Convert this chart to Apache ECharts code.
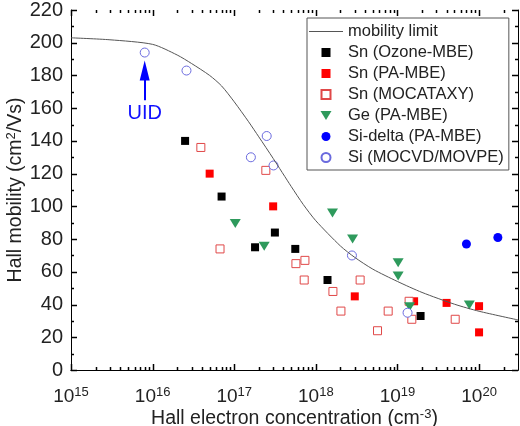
<!DOCTYPE html>
<html>
<head>
<meta charset="utf-8">
<script src="https://cdn.jsdelivr.net/npm/echarts@6/dist/echarts.min.js"></script>
<style>
html, body { margin: 0; padding: 0; background: #fff; }
#chart { width: 520px; height: 426px; }
</style>
</head>
<body>
<div id="chart"></div>
<script>
// mobility limit curve
var limitX = [1e15, 3e15, 1e16, 2e16, 3e16, 5e16, 7e16, 1e17, 1.5e17, 2e17, 3e17, 5e17, 7e17, 1e18, 2e18, 3e18, 5e18, 1e19, 2e19, 5e19, 1e20, 3e20];
var limitY = [203, 201.8, 199, 192.5, 187.3, 180, 173.6, 163.9, 151.7, 142.5, 129.3, 112.1, 101.2, 91.2, 75.8, 68.8, 61.6, 54.1, 47.4, 40.2, 35.9, 30.6];

// Sn (Ozone-MBE)
var ozoneX = [2.5e16, 7.0e16, 1.8e17, 3.15e17, 5.6e17, 1.39e18, 1.92e19];
var ozoneY = [140, 106, 75, 84, 74, 55, 33];
// Sn (PA-MBE)
var snPaX = [5.0e16, 3.0e17, 3.0e18, 1.6e19, 4.0e19, 1.0e20, 1.0e20];
var snPaY = [120, 100, 45, 42, 41, 39, 23];
// Sn (MOCATAXY)
var mocX = [3.9e16, 6.7e16, 2.44e17, 5.7e17, 7.35e17, 7.2e17, 1.62e18, 2.03e18, 3.49e18, 5.7e18, 7.7e18, 1.39e19, 1.5e19, 5.1e19];
var mocY = [136, 74, 122, 65, 67, 55, 48, 36, 55, 24, 36, 42, 31, 31];
// Ge (PA-MBE)
var geX = [1.03e17, 2.33e17, 1.6e18, 2.82e18, 1.02e19, 1.02e19, 1.41e19, 7.6e19];
var geY = [89.5, 75.7, 96, 80, 65.5, 57.5, 38.6, 39.7];
// Si-delta (PA-MBE)
var deltaX = [7.0e19, 1.7e20];
var deltaY = [77, 81];
// Si (MOCVD/MOVPE)
var siX = [8.0e15, 2.6e16, 1.6e17, 2.5e17, 3.03e17, 2.77e18, 1.33e19];
var siY = [194, 183, 130, 143, 125, 70, 35];

// axis ticks (drawn inward on all four sides)
var xMajorTicks = [1e15, 1e16, 1e17, 1e18, 1e19, 1e20];
var yMajorTicks = [0, 20, 40, 60, 80, 100, 120, 140, 160, 180, 200, 220];
var yMinorTicks = [10, 30, 50, 70, 90, 110, 130, 150, 170, 190, 210];
var xMinorTicks = [];
for (var e = 15; e <= 20; e++) {
  for (var k = 2; k <= 9; k++) {
    var v = k * Math.pow(10, e);
    if (v < 3e20) xMinorTicks.push(v);
  }
}

function pairs(xs, ys) {
  return xs.map(function (x, i) { return [x, ys[i]]; });
}

var tickData = [];
xMajorTicks.forEach(function (v) { tickData.push([v, 110, 6, 0]); });
xMinorTicks.forEach(function (v) { tickData.push([v, 110, 3, 0]); });
yMajorTicks.forEach(function (v) { tickData.push([1e16, v, 6, 1]); });
yMinorTicks.forEach(function (v) { tickData.push([1e16, v, 3, 1]); });

function renderTick(params, api) {
  var cs = params.coordSys;
  var len = api.value(2);
  var style = { stroke: '#000', lineWidth: 1.5 };
  var left = cs.x, right = cs.x + cs.width, top = cs.y, bottom = cs.y + cs.height;
  if (api.value(3) === 0) {
    var px = Math.round(api.coord([api.value(0), 110])[0]) + 0.5;
    return {
      type: 'group',
      children: [
        { type: 'line', shape: { x1: px, y1: bottom, x2: px, y2: bottom - len }, style: style },
        { type: 'line', shape: { x1: px, y1: top, x2: px, y2: top + len }, style: style }
      ]
    };
  }
  var py = Math.round(api.coord([1e16, api.value(1)])[1]) + 0.5;
  return {
    type: 'group',
    children: [
      { type: 'line', shape: { x1: left, y1: py, x2: left + len, y2: py }, style: style },
      { type: 'line', shape: { x1: right, y1: py, x2: right - len, y2: py }, style: style }
    ]
  };
}

var font = 'Liberation Sans, Arial, sans-serif';
var supRich = {
  b: { fontSize: 19, color: '#222', fontFamily: font, lineHeight: 22 },
  s: { fontSize: 13, color: '#222', fontFamily: font, lineHeight: 13, verticalAlign: 'top' }
};
var nameRich = {
  b: { fontSize: 19.5, color: '#222', fontFamily: font, lineHeight: 22 },
  s: { fontSize: 13, color: '#222', fontFamily: font, lineHeight: 13, verticalAlign: 'top' }
};

var chart = echarts.init(document.getElementById('chart'));

function xAxisBase(pos) {
  return {
    type: 'log',
    min: 1e15,
    max: 3e20,
    position: pos,
    axisLine: { show: true, lineStyle: { color: '#000' } },
    axisTick: { show: false },
    minorTick: { show: false },
    splitLine: { show: false }
  };
}
function yAxisBase(pos) {
  return {
    type: 'value',
    min: 0,
    max: 220,
    interval: 20,
    position: pos,
    axisLine: { show: true, lineStyle: { color: '#000' } },
    axisTick: { show: false },
    minorTick: { show: false },
    splitLine: { show: false }
  };
}

var xBottom = xAxisBase('bottom');
xBottom.axisLabel = {
  margin: 16,
  showMaxLabel: false,
  formatter: function (v) {
    var p = Math.round(Math.log10(v));
    return '{b|10}{s|' + p + '}';
  },
  rich: supRich
};
xBottom.name = '{b|Hall electron concentration (cm}{s|-3}{b|)}';
xBottom.nameLocation = 'middle';
xBottom.nameGap = 38;
xBottom.nameMoveOverlap = false;
xBottom.nameTextStyle = { rich: nameRich };

var xTop = xAxisBase('top');
xTop.axisLabel = { show: false };

var yLeft = yAxisBase('left');
yLeft.axisLabel = { color: '#222', fontSize: 20, fontFamily: font, margin: 8 };
yLeft.name = '{b|Hall mobility (cm}{s|2}{b|/Vs)}';
yLeft.nameLocation = 'middle';
yLeft.nameGap = 44;
yLeft.nameMoveOverlap = false;
yLeft.nameTextStyle = { rich: nameRich };

var yRight = yAxisBase('right');
yRight.axisLabel = { show: false };

var option = {
  animation: false,
  grid: { left: 71, right: 2, top: 10, bottom: 56, outerBoundsMode: 'none' },
  xAxis: [xBottom, xTop],
  yAxis: [yLeft, yRight],
  legend: {
    orient: 'vertical',
    left: 307,
    top: 18,
    itemWidth: 34,
    itemHeight: 9,
    itemGap: 4,
    padding: [5, 5, 4, 2],
    borderColor: '#555',
    borderWidth: 1,
    textStyle: { fontSize: 16.5, color: '#222', fontFamily: font },
    data: [
      { name: 'mobility limit', icon: 'path://M0,0 H34 V1.2 H0 Z' },
      { name: 'Sn (Ozone-MBE)', icon: 'path://M0,0 H8 V8 H0 Z' },
      { name: 'Sn (PA-MBE)', icon: 'path://M0,0 H8 V8 H0 Z' },
      { name: 'Sn (MOCATAXY)', icon: 'path://M0,0 H8 V8 H0 Z' },
      { name: 'Ge (PA-MBE)', icon: 'path://M0,0 L11,0 L5.5,9 Z' },
      { name: 'Si-delta (PA-MBE)', icon: 'circle' },
      { name: 'Si (MOCVD/MOVPE)', icon: 'circle' }
    ]
  },
  series: [
    {
      name: 'ticks',
      type: 'custom',
      silent: true,
      renderItem: renderTick,
      data: tickData
    },
    {
      name: 'mobility limit',
      type: 'line',
      data: pairs(limitX, limitY),
      smooth: 0.25,
      symbol: 'none',
      lineStyle: { color: '#555', width: 1 },
      itemStyle: { color: '#555' }
    },
    {
      name: 'Sn (Ozone-MBE)',
      type: 'scatter',
      data: pairs(ozoneX, ozoneY),
      symbol: 'rect',
      symbolSize: 8,
      itemStyle: { color: '#000', opacity: 1 }
    },
    {
      name: 'Sn (PA-MBE)',
      type: 'scatter',
      data: pairs(snPaX, snPaY),
      symbol: 'rect',
      symbolSize: 8,
      itemStyle: { color: '#f00', opacity: 1 }
    },
    {
      name: 'Sn (MOCATAXY)',
      type: 'scatter',
      data: pairs(mocX, mocY),
      symbol: 'rect',
      symbolSize: 8,
      itemStyle: { color: '#fff', borderColor: '#e04848', borderWidth: 1, opacity: 1 }
    },
    {
      name: 'Ge (PA-MBE)',
      type: 'scatter',
      data: pairs(geX, geY),
      symbol: 'triangle',
      symbolRotate: 180,
      symbolSize: [11, 9],
      itemStyle: { color: '#2e9a5c', opacity: 1 }
    },
    {
      name: 'Si-delta (PA-MBE)',
      type: 'scatter',
      data: pairs(deltaX, deltaY),
      symbol: 'circle',
      symbolSize: 9,
      itemStyle: { color: '#0000ff', opacity: 1 }
    },
    {
      name: 'Si (MOCVD/MOVPE)',
      type: 'scatter',
      data: pairs(siX, siY),
      symbol: 'circle',
      symbolSize: 9,
      itemStyle: { color: '#fff', borderColor: '#6a6ade', borderWidth: 1, opacity: 1 },
      markLine: {
        silent: true,
        symbol: ['none', 'triangle'],
        symbolSize: [10, 20],
        lineStyle: { color: '#0000ff', width: 2, type: 'solid' },
        label: { show: true, position: 'start', formatter: 'UID', color: '#1010ff', fontSize: 20, fontFamily: font, distance: 3 },
        data: [[{ coord: [8e15, 164.8] }, { coord: [8e15, 183] }]]
      }
    }
  ]
};

chart.setOption(option);
</script>
</body>
</html>
